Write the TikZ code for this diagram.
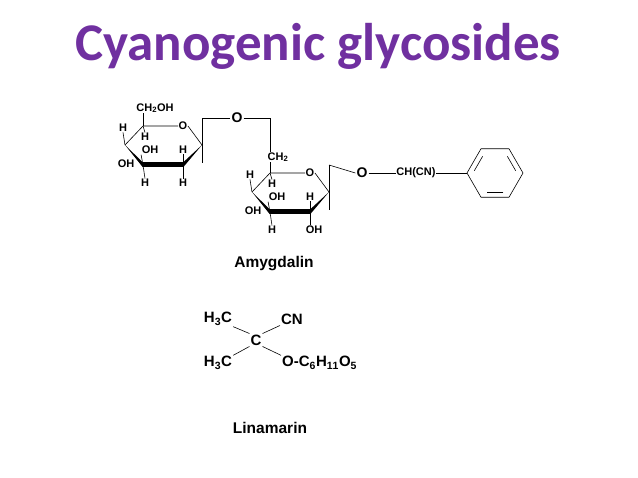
\documentclass[tikz,border=0pt]{standalone}
\usepackage{fontspec}
\usetikzlibrary{calc}
\setmainfont{Liberation Sans}
\newfontfamily\titlefont{Carlito}
\begin{document}
\begin{tikzpicture}[x=1pt,y=-1pt,
  lab/.style={font=\bfseries\fontsize{11}{11}\selectfont,inner sep=0.5pt},
  big/.style={font=\bfseries\fontsize{15}{15}\selectfont,inner sep=1pt},
  bond/.style={line width=0.6pt}]
\useasboundingbox (0,0) rectangle (638,478);
\node (title) at (318,46) {\titlefont\bfseries\fontsize{53}{56}\selectfont\color[HTML]{7030A0}Cyanogenic glycosides};
\foreach \p/\dx/\dy in {a/0/0,b/127/47}{
\begin{scope}[shift={(\dx,\dy)}]
\coordinate (\p5) at (143,126);
\node[lab] (\p O) at (183,126) {O};
\coordinate (\p1) at (202,145);
\coordinate (\p2) at (183,165);
\coordinate (\p3) at (143,165);
\coordinate (\p4) at (125,145);
\draw[bond] (\p5) -- (\p O.west) (\p O.east) -- (\p1);
\draw[bond] (\p4) -- (\p5);
\fill (\p4) -- ($(\p3)+(0,-2.5)$) -- ($(\p3)+(0,2.5)$) -- cycle;
\fill ($(\p3)+(0,-2.5)$) rectangle ($(\p2)+(0,2.5)$);
\fill ($(\p2)+(0,-2.5)$) -- (\p1) -- ($(\p2)+(0,2.5)$) -- cycle;
\node[lab] (\p H5) at (145,137) {H};
\node[lab] (\p H4) at (123,128) {H};
\node[lab] (\p OH4) at (126,164) {OH};
\node[lab] (\p OH3) at (150,150) {OH};
\node[lab] (\p H3) at (145,183) {H};
\node[lab] (\p H2) at (183,150) {H};
\draw[bond] (\p5) -- (\p H5.north);
\draw[bond] (\p4) -- (\p H4.south);
\draw[bond] (\p3) -- (\p OH3.south west);
\draw[bond] (\p3) -- (\p H3.north);
\draw[bond] (\p2) -- (\p H2.south);
\coordinate (\p1u) at (202,118);
\coordinate (\p1d) at (202,163);
\draw[bond] (\p1) -- (\p1u) (\p1) -- (\p1d);
\end{scope}}
\node[lab] (aC6) at (155,108) {CH$_\mathbf{2}$OH};
\draw[bond] (a5) -- (aC6.south -| a5);
\node[lab] (aH2d) at (183,183) {H};
\draw[bond] (a2) -- (aH2d.north);
\node[lab] (bOH2) at (314,230) {OH};
\draw[bond] (b2) -- (bOH2.north -| b2);
\node[lab] (bC6) at (278,157) {CH$_\mathbf{2}$};
\draw[bond] (b5) -- (bC6.south -| b5);
\node[big,font=\bfseries\fontsize{14}{14}\selectfont] (O1) at (237,118) {O};
\coordinate (k) at (270,118);
\draw[bond] (a1u) -- (O1.west) (O1.east) -- (k) -- (bC6.north -| k);
\node[big,font=\bfseries\fontsize{14}{14}\selectfont] (O2) at (362,173) {O};
\draw[bond] (b1u) -- (O2.west);
\node[lab] (chcn) at (416,173) {CH(CN)};
\draw[bond] (O2.east) -- (chcn.west);
\coordinate (bz) at (495,173);
\foreach \i in {0,...,5} {
  \coordinate (p\i) at ($(bz)+(\i*60:28)$);
  \coordinate (q\i) at ($(bz)+(\i*60:22)$);}
\draw[bond] (p0)--(p1)--(p2)--(p3)--(p4)--(p5)--cycle;
\draw[bond] ($(q1)!0.12!(q2)$) -- ($(q1)!0.88!(q2)$);
\draw[bond] ($(q3)!0.12!(q4)$) -- ($(q3)!0.88!(q4)$);
\draw[bond] ($(q5)!0.12!(q0)$) -- ($(q5)!0.88!(q0)$);
\draw[bond] (chcn.east) -- (p3);
\node[font=\bfseries\fontsize{15.5}{16}\selectfont] (amyg) at (274,264) {Amygdalin};
\node[big] (h1) at (218,319) {H$_\mathbf{3}$C};
\node[big] (cn) at (292,319) {CN};
\node[big] (cc) at (256,340) {C};
\node[big] (h2) at (218,363) {H$_\mathbf{3}$C};
\node[big,anchor=west] (og) at (281,363) {O-C$_\mathbf{6}$H$_\mathbf{11}$O$_\mathbf{5}$};
\draw[bond] (h1.south east) -- (cc.north west);
\draw[bond] (cn.south west) -- (cc.north east);
\draw[bond] (h2.north east) -- (cc.south west);
\draw[bond] (og.north west) -- (cc.south east);
\node[font=\bfseries\fontsize{15.5}{16}\selectfont] (lina) at (270,428) {Linamarin};
\end{tikzpicture}
\end{document}
